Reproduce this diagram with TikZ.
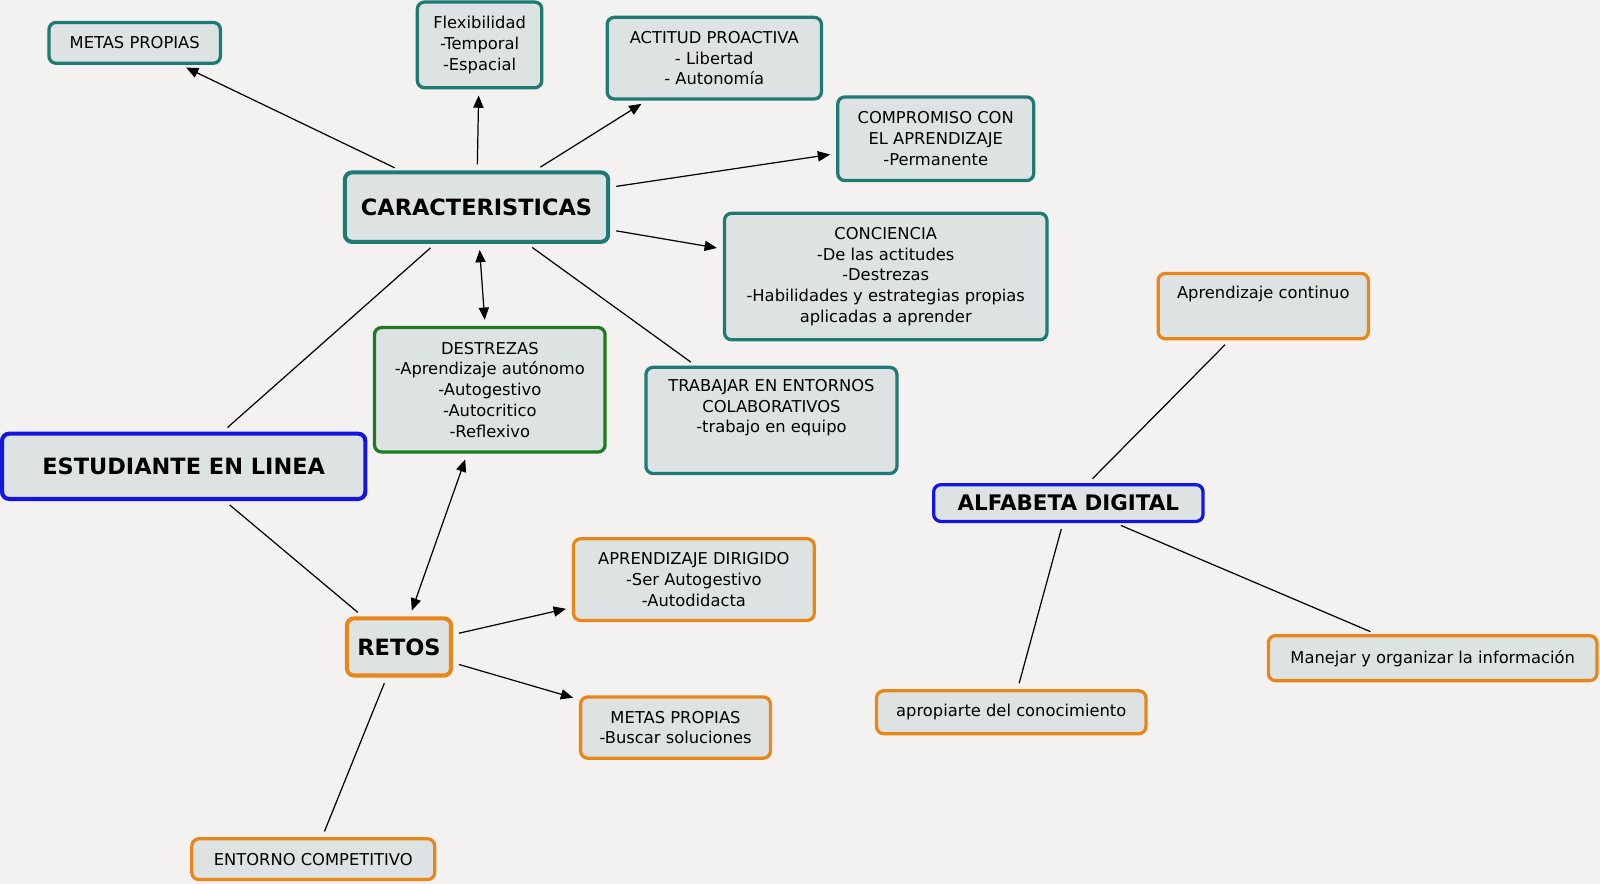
\documentclass[tikz,border=0pt]{standalone}
\usepackage{fontspec}
\setmainfont{DejaVu Sans}
\usetikzlibrary{arrows.meta}
\definecolor{bg}{HTML}{F3F2F1}
\definecolor{fillc}{HTML}{DDE3E3}
\definecolor{teal}{HTML}{1E7A72}
\definecolor{blu}{HTML}{1515E0}
\definecolor{grn}{HTML}{207A20}
\definecolor{org}{HTML}{E8861A}
\tikzset{
 box/.style={draw=#1,fill=fillc,line width=1.6pt,rounded corners=3.5pt,align=center,inner sep=0pt,font=\fontsize{8}{10.2}\selectfont},
 big/.style={font=\fontsize{11}{14}\selectfont\bfseries,line width=2pt},
 ln/.style={line width=0.6pt,shorten <=3pt,shorten >=3pt},
 ar/.style={ln,-{Triangle[length=6pt,width=5pt]}},
 dar/.style={ln,{Triangle[length=6pt,width=5pt]}-{Triangle[length=6pt,width=5pt]}}
}
\begin{document}
\begin{tikzpicture}[x=0.5pt,y=-0.5pt]
\fill[bg] (0,0) rectangle (1568,866);
\useasboundingbox (0,0) rectangle (1568,866);
\node[box=teal,minimum width=84pt,minimum height=20pt] (mp) at (132,42) {METAS PROPIAS};
\node[box=teal,minimum width=61pt,minimum height=42pt] (fx) at (470,44) {Flexibilidad\\-Temporal\\-Espacial};
\node[box=teal,minimum width=105pt,minimum height=40pt] (ac) at (700,57) {ACTITUD PROACTIVA\\- Libertad\\- Autonomía};
\node[box=teal,minimum width=96pt,minimum height=41pt] (co) at (917,136) {COMPROMISO CON\\EL APRENDIZAJE\\-Permanente};
\node[box=teal,big,minimum width=129pt,minimum height=34pt] (ca) at (467,203) {CARACTERISTICAS};
\node[box=teal,minimum width=158pt,minimum height=62pt] (cn) at (868,271) {CONCIENCIA\\-De las actitudes\\-Destrezas\\-Habilidades y estrategias propias\\aplicadas a aprender};
\node[box=grn,minimum width=113pt,minimum height=61pt] (de) at (480,382) {DESTREZAS\\-Aprendizaje autónomo\\-Autogestivo\\-Autocritico\\-Reflexivo};
\node[box=teal,minimum width=123pt,minimum height=52pt,text depth=14pt] (tr) at (756,412) {TRABAJAR EN ENTORNOS\\COLABORATIVOS\\-trabajo en equipo};
\node[box=blu,big,minimum width=178pt,minimum height=32pt] (es) at (180,457) {ESTUDIANTE EN LINEA};
\node[box=org,minimum width=103pt,minimum height=32pt,text depth=14pt] (apc) at (1238,300) {Aprendizaje continuo};
\node[box=blu,font=\fontsize{10.5}{13}\selectfont\bfseries,minimum width=132pt,minimum height=18pt] (al) at (1047,493) {ALFABETA DIGITAL};
\node[box=org,minimum width=118pt,minimum height=40pt] (ad) at (680,568) {APRENDIZAJE DIRIGIDO\\-Ser Autogestivo\\-Autodidacta};
\node[box=org,big,minimum width=51pt,minimum height=28pt] (re) at (391,634) {RETOS};
\node[box=org,minimum width=93pt,minimum height=30pt] (m2) at (662,713) {METAS PROPIAS\\-Buscar soluciones};
\node[box=org,minimum width=161pt,minimum height=22pt] (mo) at (1404,645) {Manejar y organizar la información};
\node[box=org,minimum width=132pt,minimum height=21pt] (apr) at (991,698) {apropiarte del conocimiento};
\node[box=org,minimum width=119pt,minimum height=20pt] (en) at (307,842) {ENTORNO COMPETITIVO};
\draw[ar] (ca) -- (mp);
\draw[ar] (ca) -- (fx);
\draw[ar] (ca) -- (ac);
\draw[ar] (ca) -- (co);
\draw[ar] (ca) -- (cn);
\draw[ln] (ca) -- (tr);
\draw[dar] (ca) -- (de);
\draw[ln] (es) -- (ca);
\draw[ln] (es) -- (re);
\draw[dar] (re) -- (de);
\draw[ar] (re) -- (ad);
\draw[ar] (re) -- (m2);
\draw[ln] (re) -- (en);
\draw[ln] (al) -- (apc);
\draw[ln] (al) -- (apr);
\draw[ln] (al) -- (mo);
\end{tikzpicture}
\end{document}
